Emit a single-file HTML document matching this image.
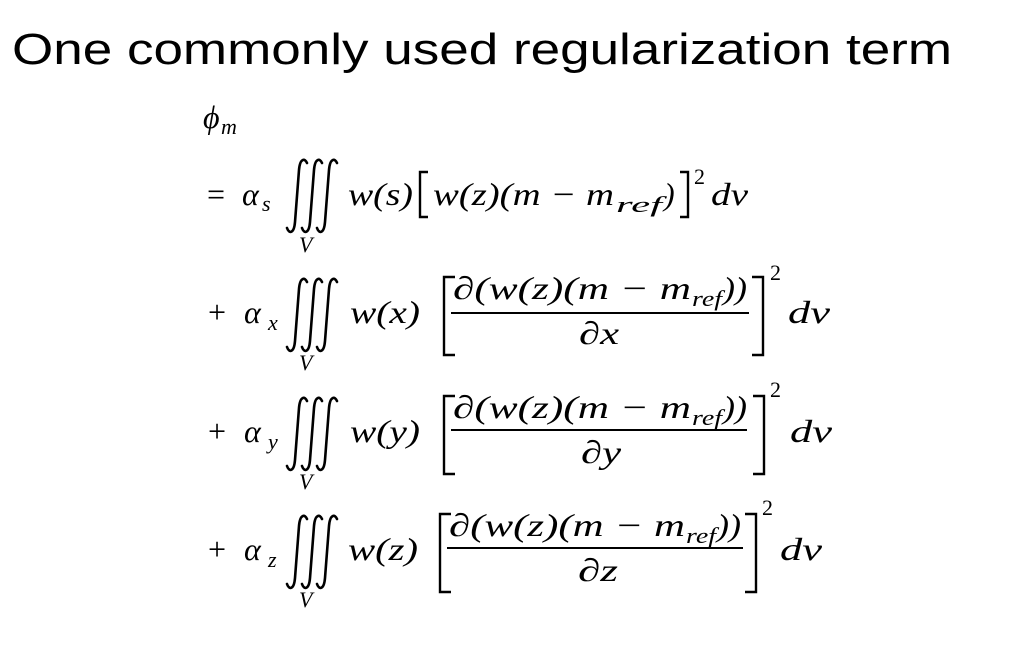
<!DOCTYPE html>
<html><head><meta charset="utf-8"><style>
html,body{margin:0;padding:0;background:#fff;width:1024px;height:653px;overflow:hidden}
svg{display:block}
.t{font-family:"Liberation Sans",sans-serif;font-size:44px;fill:#000}
.m{font-family:"Liberation Serif","DejaVu Serif",serif;font-size:32px;font-style:italic;fill:#000}
.u{font-family:"Liberation Serif","DejaVu Serif",serif;font-size:32px;fill:#000}
.s{font-family:"Liberation Serif",serif;font-size:22px;font-style:italic;fill:#000}
.n{font-family:"Liberation Serif",serif;font-size:22px;fill:#000}
.ig{fill:none;stroke:#000;stroke-width:2.6;stroke-linecap:round}
.br{fill:none;stroke:#000;stroke-width:2.4}
</style></head><body>
<svg width="1024" height="653" viewBox="0 0 1024 653" xmlns="http://www.w3.org/2000/svg">
<defs>
<g id="int">
<path class="ig" d="M20,5 C18,0 13,0 12,12 L8,64 C7,76 2,76 0,70"/>
<path class="ig" d="M35,5 C33,0 28,0 27,12 L23,64 C22,76 17,76 15,70"/>
<path class="ig" d="M50,5 C48,0 43,0 42,12 L38,64 C37,76 32,76 30,70"/>
</g>
</defs>
<text class="t" x="12" y="64" textLength="940" lengthAdjust="spacingAndGlyphs">One commonly used regularization term</text>

<text class="m" x="203" y="128">ϕ</text><text class="s" x="221" y="134">m</text>

<!-- row 1 -->
<text class="u" x="207" y="205">=</text>
<text class="m" x="242" y="205">α</text><text class="s" x="262" y="211">s</text>
<use href="#int" x="287" y="158"/>
<text class="s" x="299" y="252">V</text>
<text class="m" x="348" y="205" textLength="65" lengthAdjust="spacingAndGlyphs">w(s)</text>
<path class="br" d="M428,172 L420,172 L420,217 L428,217"/>
<text class="m" x="433" y="205" textLength="181" lengthAdjust="spacingAndGlyphs">w(z)(m − m</text>
<text class="s" x="616" y="212" textLength="46" lengthAdjust="spacingAndGlyphs">ref</text>
<text class="m" x="664" y="205">)</text>
<path class="br" d="M680,172 L688,172 L688,217 L680,217"/>
<text class="n" x="694" y="184">2</text>
<text class="m" x="711" y="205" textLength="37" lengthAdjust="spacingAndGlyphs">dv</text>

<g>
<text class="u" x="208" y="323">+</text>
<text class="m" x="244" y="323">α</text><text class="s" x="268" y="330">x</text>
<use href="#int" x="287" y="277"/>
<text class="s" x="299" y="370">V</text>
<text class="m" x="350" y="323" textLength="70" lengthAdjust="spacingAndGlyphs">w(x)</text>
<path class="br" d="M455,277 L444,277 L444,355 L455,355"/>
<text class="m" x="453" y="299" textLength="238" lengthAdjust="spacingAndGlyphs">∂(w(z)(m − m</text>
<text class="s" x="692" y="306" textLength="30" lengthAdjust="spacingAndGlyphs">ref</text>
<text class="m" x="723" y="299" textLength="24" lengthAdjust="spacingAndGlyphs">))</text>
<rect x="451" y="312" width="298" height="2" fill="#000"/>
<text class="m" x="579" y="344" textLength="40" lengthAdjust="spacingAndGlyphs">∂x</text>
<path class="br" d="M752,277 L763,277 L763,355 L752,355"/>
<text class="n" x="770" y="280">2</text>
<text class="m" x="788" y="323" textLength="42" lengthAdjust="spacingAndGlyphs">dv</text>
</g>

<g transform="translate(0,119)">
<text class="u" x="208" y="323">+</text>
<text class="m" x="244" y="323">α</text><text class="s" x="268" y="330">y</text>
<use href="#int" x="287" y="277"/>
<text class="s" x="299" y="370">V</text>
<text class="m" x="350" y="323" textLength="70" lengthAdjust="spacingAndGlyphs">w(y)</text>
<path class="br" d="M455,277 L444,277 L444,355 L455,355"/>
<text class="m" x="453" y="299" textLength="238" lengthAdjust="spacingAndGlyphs">∂(w(z)(m − m</text>
<text class="s" x="692" y="306" textLength="30" lengthAdjust="spacingAndGlyphs">ref</text>
<text class="m" x="723" y="299" textLength="24" lengthAdjust="spacingAndGlyphs">))</text>
<rect x="451" y="310" width="296" height="2" fill="#000"/>
<text class="m" x="581" y="344" textLength="40" lengthAdjust="spacingAndGlyphs">∂y</text>
<path class="br" d="M753,277 L764,277 L764,355 L753,355"/>
<text class="n" x="770" y="278">2</text>
<text class="m" x="790" y="323" textLength="42" lengthAdjust="spacingAndGlyphs">dv</text>
</g>

<g transform="translate(0,237)">
<text class="u" x="208" y="323">+</text>
<text class="m" x="244" y="323">α</text><text class="s" x="268" y="330">z</text>
<use href="#int" x="287" y="277"/>
<text class="s" x="299" y="370">V</text>
<text class="m" x="348" y="323" textLength="70" lengthAdjust="spacingAndGlyphs">w(z)</text>
<path class="br" d="M451,277 L440,277 L440,355 L451,355"/>
<text class="m" x="449" y="299" textLength="236" lengthAdjust="spacingAndGlyphs">∂(w(z)(m − m</text>
<text class="s" x="686" y="306" textLength="30" lengthAdjust="spacingAndGlyphs">ref</text>
<text class="m" x="717" y="299" textLength="24" lengthAdjust="spacingAndGlyphs">))</text>
<rect x="447" y="310" width="296" height="2" fill="#000"/>
<text class="m" x="578" y="344" textLength="40" lengthAdjust="spacingAndGlyphs">∂z</text>
<path class="br" d="M745,277 L756,277 L756,355 L745,355"/>
<text class="n" x="762" y="278">2</text>
<text class="m" x="780" y="323" textLength="42" lengthAdjust="spacingAndGlyphs">dv</text>
</g>
</svg>
</body></html>
